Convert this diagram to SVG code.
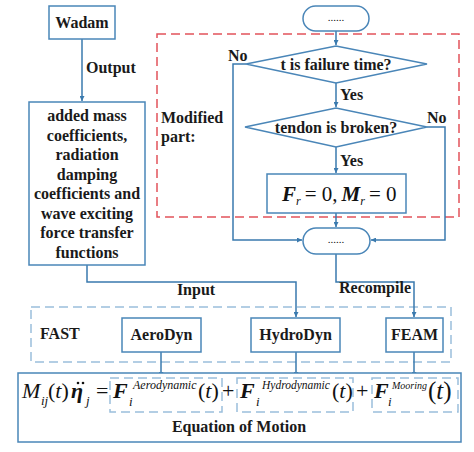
<svg xmlns="http://www.w3.org/2000/svg" width="474" height="452" viewBox="0 0 474 452" font-family="'Liberation Serif','Times New Roman',serif">
<defs>
<marker id="ah" viewBox="0 0 10 10" refX="10" refY="5" markerWidth="5" markerHeight="5" orient="auto" markerUnits="userSpaceOnUse">
<path d="M0,0 L10,5 L0,10 z" fill="#3a7aae"/>
</marker>
<style>
.box{fill:#fff;stroke:#4a86b8;stroke-width:1.5}
.ln{fill:none;stroke:#3a7aae;stroke-width:1.5}
.t{font-family:'Liberation Serif','Times New Roman',serif;font-weight:bold;font-size:16px;fill:#1a1a1a}
.c{text-anchor:middle}
.red{fill:none;stroke:#e2535b;stroke-width:1.5;stroke-dasharray:9,5}
.lb{fill:none;stroke:#9bbfdc;stroke-width:1.5;stroke-dasharray:9,5}
.m{font-family:'Liberation Serif','Times New Roman',serif;fill:#111}
</style>
</defs>
<rect width="474" height="452" fill="#fff"/>

<rect class="red" x="157" y="34" width="302" height="183"/>
<rect class="lb" x="31" y="307" width="420" height="55"/>

<g id="connectors">
<path class="ln" d="M82,39 V101" marker-end="url(#ah)"/>
<path class="ln" d="M336,31 V45" marker-end="url(#ah)"/>
<path class="ln" d="M336,83 V107" marker-end="url(#ah)"/>
<path class="ln" d="M336,147 V173" marker-end="url(#ah)"/>
<path class="ln" d="M336,213 V227" marker-end="url(#ah)"/>
<path class="ln" d="M246,64 H233 V240 H302" marker-end="url(#ah)"/>
<path class="ln" d="M427,127 H445 V240 H371" marker-end="url(#ah)"/>
<path class="ln" d="M87,265 V282 H296 V317" marker-end="url(#ah)"/>
<path class="ln" d="M336,254 V282 H414 V317" marker-end="url(#ah)"/>
<path class="ln" d="M161,352 V377" marker-end="url(#ah)"/>
<path class="ln" d="M296,352 V377" marker-end="url(#ah)"/>
<path class="ln" d="M414,352 V377" marker-end="url(#ah)"/>
<text class="t" x="86" y="73">Output</text>
<text class="t c" x="196" y="295">Input</text>
<text class="t" x="339" y="293">Recompile</text>
<text class="t" x="228" y="61">No</text>
<text class="t" x="427" y="123">No</text>
<text class="t" x="340" y="100">Yes</text>
<text class="t" x="340" y="166">Yes</text>
</g>

<g id="wadam">
<rect class="box" x="49" y="6" width="66" height="33"/>
<text class="t c" x="82" y="28">Wadam</text>
</g>

<g id="coeffs">
<rect class="box" x="29" y="102" width="116" height="163"/>
<text class="t c" x="87" y="121">added mass</text>
<text class="t c" x="87" y="140.5">coefficients,</text>
<text class="t c" x="87" y="160">radiation</text>
<text class="t c" x="87" y="179.5">damping</text>
<text class="t c" x="87" y="199">coefficients and</text>
<text class="t c" x="87" y="218.5">wave exciting</text>
<text class="t c" x="87" y="238">force transfer</text>
<text class="t c" x="87" y="257.5">functions</text>
</g>

<g id="modified-label">
<text class="t" x="161" y="123">Modified</text>
<text class="t" x="161" y="142">part:</text>
</g>

<g id="start">
<rect class="box" x="303" y="6" width="66" height="25" rx="12.5"/>
<text class="m c" x="336" y="21" font-size="11">......</text>
</g>

<g id="failure-time">
<polygon class="box" points="246,64 336,46 427,64 336,83"/>
<text class="t c" x="336" y="70">t is failure time?</text>
</g>

<g id="tendon-broken">
<polygon class="box" points="245,127 336,108 427,127 336,147"/>
<text class="t c" x="336" y="133">tendon is broken?</text>
</g>

<g id="zero-force">
<rect class="box" x="267" y="174" width="139" height="39"/>
<text class="m" x="282" y="201" font-size="21"><tspan font-weight="bold" font-style="italic">F</tspan><tspan font-style="italic" font-size="12" dy="4">r</tspan><tspan dy="-4" dx="4">= 0,</tspan><tspan font-weight="bold" font-style="italic" dx="4">M</tspan><tspan font-style="italic" font-size="12" dy="4">r</tspan><tspan dy="-4" dx="4">= 0</tspan></text>
</g>

<g id="end">
<rect class="box" x="303" y="228" width="67" height="26" rx="13"/>
<text class="m c" x="336" y="243" font-size="11">......</text>
</g>

<g id="fast">
<text class="t" x="40" y="339">FAST</text>
</g>

<g id="aerodyn">
<rect class="box" x="122" y="318" width="79" height="34"/>
<text class="t c" x="161.5" y="340">AeroDyn</text>
</g>

<g id="hydrodyn">
<rect class="box" x="251" y="318" width="89" height="34"/>
<text class="t c" x="295.5" y="340">HydroDyn</text>
</g>

<g id="feam">
<rect class="box" x="386" y="318" width="57" height="34"/>
<text class="t c" x="414.5" y="340">FEAM</text>
</g>

<g id="equation">
<rect class="box" x="18" y="373" width="443" height="69"/>
<rect class="lb" x="110" y="378" width="112" height="34"/>
<rect class="lb" x="237" y="378" width="116" height="34"/>
<rect class="lb" x="372" y="378" width="86" height="34"/>
<g class="m" font-size="22">
<text x="22" y="398" font-style="italic">M</text>
<text x="41" y="405" font-style="italic" font-size="13">ij</text>
<text x="48" y="398">(<tspan font-style="italic">t</tspan>)</text>
<text x="71" y="398" font-style="italic" font-weight="bold">η</text>
<circle cx="78" cy="383" r="1.3" fill="#111"/>
<circle cx="83" cy="383" r="1.3" fill="#111"/>
<text x="86" y="405" font-style="italic" font-size="13">j</text>
<text x="96" y="398">=</text>
<text x="113" y="398" font-style="italic" font-weight="bold">F</text>
<text x="129" y="406" font-style="italic" font-size="13">i</text>
<text x="133" y="389" font-style="italic" font-size="12">Aerodynamic</text>
<text x="198" y="398">(<tspan font-style="italic">t</tspan>)</text>
<text x="222" y="398">+</text>
<text x="240" y="398" font-style="italic" font-weight="bold">F</text>
<text x="256" y="406" font-style="italic" font-size="13">i</text>
<text x="262" y="389" font-style="italic" font-size="11.5">Hydrodynamic</text>
<text x="332" y="398">(<tspan font-style="italic">t</tspan>)</text>
<text x="356" y="398">+</text>
<text x="374" y="398" font-style="italic" font-weight="bold">F</text>
<text x="388" y="406" font-style="italic" font-size="13">i</text>
<text x="392" y="389" font-style="italic" font-size="10">Mooring</text>
<text x="428" y="399" font-size="25">(<tspan font-style="italic">t</tspan>)</text>
</g>
<text class="t c" x="239" y="432">Equation of Motion</text>
</g>
</svg>
